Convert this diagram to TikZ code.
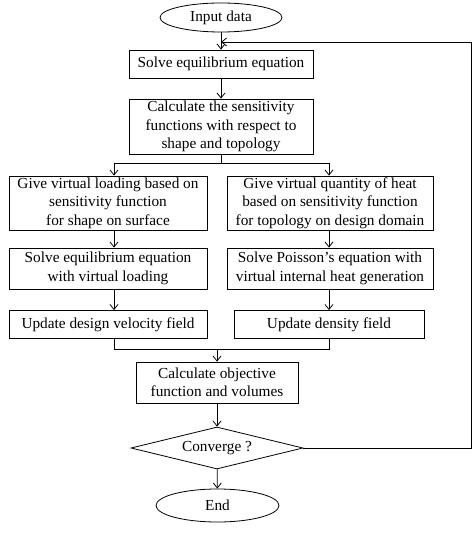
\documentclass[tikz,border=0pt]{standalone}
\usepackage{fontspec}
\setmainfont{Liberation Serif}
\usetikzlibrary{arrows.meta,shapes.geometric}
\begin{document}
\begin{tikzpicture}[x=1pt,y=-1pt,
  every node/.style={font=\fontsize{15.3}{18.5}\selectfont},
  box/.style={draw,rectangle,inner sep=0pt,align=center,line width=0.8pt},
  term/.style={draw,ellipse,inner sep=0pt,line width=0.8pt},
  dec/.style={draw,diamond,aspect=4,inner sep=0pt,line width=0.8pt},
  arr/.style={-{Straight Barb[length=5pt,width=8pt]},line width=0.8pt},
  ln/.style={line width=0.8pt}]
\useasboundingbox (0,0) rectangle (474,545);
\node[term,minimum width=122pt,minimum height=29pt] (in) at (221,17.5) {Input data};
\node[box,minimum width=184pt,minimum height=28pt] (b1) at (221,64) {Solve equilibrium equation};
\node[box,minimum width=184pt,minimum height=55pt] (b2) at (221,126.5) {Calculate the sensitivity\\functions with respect to\\shape and topology};
\node[box,minimum width=198pt,minimum height=54pt] (a1) at (108,203) {Give virtual loading based on\\sensitivity function\\for shape on surface};
\node[box,minimum width=206pt,minimum height=54pt] (r1) at (330,203) {Give virtual quantity of heat\\based on sensitivity function\\for topology on design domain};
\node[box,minimum width=198pt,minimum height=41pt] (a2) at (108,268.5) {Solve equilibrium equation\\with virtual loading};
\node[box,minimum width=206pt,minimum height=41pt] (r2) at (330,268.5) {Solve Poisson's equation with\\virtual internal heat generation};
\node[box,minimum width=198pt,minimum height=28pt] (a3) at (108,324.5) {Update design velocity field};
\node[box,minimum width=190pt,minimum height=28pt] (r3) at (329,324.5) {Update density field};
\node[box,minimum width=162pt,minimum height=41pt] (c) at (217,382.5) {Calculate objective\\function and volumes};
\node[dec,minimum width=172pt,minimum height=42pt] (d) at (217,448) {Converge ?};
\node[term,minimum width=123pt,minimum height=33pt] (e) at (217.5,505.5) {End};
\coordinate (L) at (114,0);
\coordinate (R) at (329,0);
\coordinate (sp) at (221,163);
\coordinate (m) at (217,349);
\coordinate (lt) at (471,42);
\draw[arr] (in) -- (b1);
\draw[arr] (b1) -- (b2);
\draw[ln] (b2.south) -- (sp);
\draw[arr] (sp) -| (a1.north -| L);
\draw[arr] (sp) -| (r1.north -| R);
\draw[arr] (a1.south -| L) -- (a2.north -| L);
\draw[arr] (a2.south -| L) -- (a3.north -| L);
\draw[arr] (r1.south -| R) -- (r2.north -| R);
\draw[arr] (r2.south -| R) -- (r3.north -| R);
\draw[ln] (a3.south -| L) |- (m);
\draw[ln] (r3.south -| R) |- (m);
\draw[arr] (m) -- (c);
\draw[arr] (c) -- (d);
\draw[arr] (d) -- (e);
\draw[arr] (d.east) -| (lt) -- (in.south |- lt);
\end{tikzpicture}
\end{document}
